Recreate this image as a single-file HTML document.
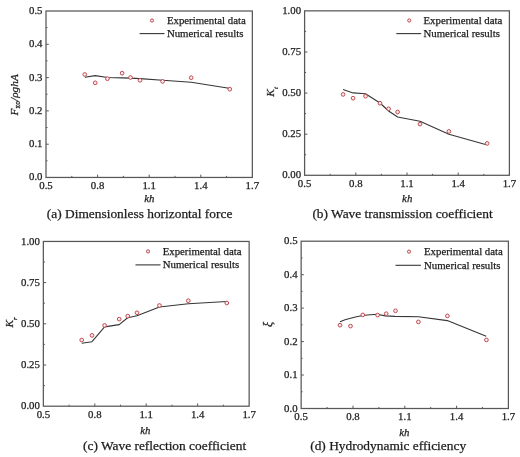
<!DOCTYPE html>
<html><head><meta charset="utf-8"><title>Figure</title>
<style>
html,body{margin:0;padding:0;background:#fff;}
body{width:520px;height:457px;overflow:hidden;}
svg{display:block;}
text{font-family:"Liberation Serif","Times New Roman",serif;fill:#1c1c1c;stroke:#1c1c1c;stroke-width:0.25px;font-variant-ligatures:none;}
.tk{font-size:10.8px;}
.yl{font-size:11.3px;}
.lg{font-size:10.8px;}
.cp{font-size:13.4px;}
.it{font-style:italic;}
</style></head><body>
<svg width="520" height="457" viewBox="0 0 520 457">
<rect width="520" height="457" fill="#fff"/>
<g id="plot-a">
<rect x="46.00" y="11.00" width="206.35" height="166.45" fill="none" stroke="#585858" stroke-width="1.25"/>
<text class="tk" x="46.0" y="189.2" text-anchor="middle">0.5</text>
<text class="tk" x="97.6" y="189.2" text-anchor="middle">0.8</text>
<text class="tk" x="149.2" y="189.2" text-anchor="middle">1.1</text>
<text class="tk" x="200.8" y="189.2" text-anchor="middle">1.4</text>
<text class="tk" x="252.3" y="189.2" text-anchor="middle">1.7</text>
<text class="tk" x="42.5" y="180.4" text-anchor="end">0.0</text>
<text class="tk" x="42.5" y="147.2" text-anchor="end">0.1</text>
<text class="tk" x="42.5" y="113.9" text-anchor="end">0.2</text>
<text class="tk" x="42.5" y="80.6" text-anchor="end">0.3</text>
<text class="tk" x="42.5" y="47.3" text-anchor="end">0.4</text>
<text class="tk" x="42.5" y="14.0" text-anchor="end">0.5</text>
<path d="M71.8,177.4 v-1.5 M97.6,177.4 v-2.8 M123.4,177.4 v-1.5 M149.2,177.4 v-2.8 M175.0,177.4 v-1.5 M200.8,177.4 v-2.8 M226.6,177.4 v-1.5 M46.0,160.8 h1.5 M46.0,144.2 h2.8 M46.0,127.5 h1.5 M46.0,110.9 h2.8 M46.0,94.2 h1.5 M46.0,77.6 h2.8 M46.0,60.9 h1.5 M46.0,44.3 h2.8 M46.0,27.6 h1.5" stroke="#585858" stroke-width="1" fill="none"/>
<text class="tk it" x="149.3" y="201.6" text-anchor="middle" style="font-size:10.8px">kh</text>
<text class="yl it" transform="translate(17.6,94.8) rotate(-90)" text-anchor="middle">F<tspan style="font-size:7.5px;font-style:normal" dy="2">xo</tspan><tspan dy="-2">/ρghA</tspan></text>
<polyline points="84.8,77.3 95.2,75.6 107.5,77.5 122.1,77.9 130.4,78.1 139.9,78.6 162.6,80.3 191.2,82.3 229.0,88.2" fill="none" stroke="#363636" stroke-width="1.1" stroke-linejoin="round"/>
<circle cx="84.8" cy="74.5" r="1.85" fill="#f8ecee" stroke="#c04a50" stroke-width="1"/>
<circle cx="95.2" cy="82.8" r="1.85" fill="#f8ecee" stroke="#c04a50" stroke-width="1"/>
<circle cx="107.4" cy="78.7" r="1.85" fill="#f8ecee" stroke="#c04a50" stroke-width="1"/>
<circle cx="122.1" cy="73.2" r="1.85" fill="#f8ecee" stroke="#c04a50" stroke-width="1"/>
<circle cx="130.5" cy="77.5" r="1.85" fill="#f8ecee" stroke="#c04a50" stroke-width="1"/>
<circle cx="140.1" cy="80.3" r="1.85" fill="#f8ecee" stroke="#c04a50" stroke-width="1"/>
<circle cx="162.6" cy="81.4" r="1.85" fill="#f8ecee" stroke="#c04a50" stroke-width="1"/>
<circle cx="191.2" cy="77.7" r="1.85" fill="#f8ecee" stroke="#c04a50" stroke-width="1"/>
<circle cx="229.8" cy="89.2" r="1.85" fill="#f8ecee" stroke="#c04a50" stroke-width="1"/>
<circle cx="152.0" cy="20.5" r="1.6" fill="#f8ecee" stroke="#c04a50" stroke-width="1"/>
<path d="M139.6,33.6 H164.5" stroke="#363636" stroke-width="1.1"/>
<text class="lg" x="166.9" y="23.8">Experimental data</text>
<text class="lg" x="166.9" y="37.1">Numerical results</text>
<text class="cp" x="46.8" y="217.6">(a) Dimensionless horizontal force</text>
</g>
<g id="plot-b">
<rect x="304.60" y="10.85" width="204.80" height="164.45" fill="none" stroke="#585858" stroke-width="1.25"/>
<text class="tk" x="304.6" y="186.6" text-anchor="middle">0.5</text>
<text class="tk" x="355.8" y="186.6" text-anchor="middle">0.8</text>
<text class="tk" x="407.0" y="186.6" text-anchor="middle">1.1</text>
<text class="tk" x="458.2" y="186.6" text-anchor="middle">1.4</text>
<text class="tk" x="509.4" y="186.6" text-anchor="middle">1.7</text>
<text class="tk" x="301.1" y="178.1" text-anchor="end">0.00</text>
<text class="tk" x="301.1" y="137.0" text-anchor="end">0.25</text>
<text class="tk" x="301.1" y="95.9" text-anchor="end">0.50</text>
<text class="tk" x="301.1" y="54.8" text-anchor="end">0.75</text>
<text class="tk" x="301.1" y="13.6" text-anchor="end">1.00</text>
<path d="M330.2,175.3 v-1.5 M355.8,175.3 v-2.8 M381.4,175.3 v-1.5 M407.0,175.3 v-2.8 M432.6,175.3 v-1.5 M458.2,175.3 v-2.8 M483.8,175.3 v-1.5 M304.6,154.7 h1.5 M304.6,134.2 h2.8 M304.6,113.6 h1.5 M304.6,93.1 h2.8 M304.6,72.5 h1.5 M304.6,52.0 h2.8 M304.6,31.4 h1.5" stroke="#585858" stroke-width="1" fill="none"/>
<text class="tk it" x="407.2" y="201.9" text-anchor="middle" style="font-size:10.8px">kh</text>
<text class="yl it" transform="translate(274.4,91.9) rotate(-90)" text-anchor="middle" style="font-size:11.3px">K<tspan style="font-size:7px" dy="3.2">t</tspan></text>
<polyline points="343.1,89.6 353.1,92.9 365.5,93.7 380.0,103.0 388.6,111.0 397.6,117.0 420.0,121.3 448.9,134.3 486.4,144.8" fill="none" stroke="#363636" stroke-width="1.1" stroke-linejoin="round"/>
<circle cx="343.1" cy="94.4" r="1.85" fill="#f8ecee" stroke="#c04a50" stroke-width="1"/>
<circle cx="353.1" cy="98.2" r="1.85" fill="#f8ecee" stroke="#c04a50" stroke-width="1"/>
<circle cx="365.5" cy="96.2" r="1.85" fill="#f8ecee" stroke="#c04a50" stroke-width="1"/>
<circle cx="380.0" cy="103.2" r="1.85" fill="#f8ecee" stroke="#c04a50" stroke-width="1"/>
<circle cx="388.6" cy="108.8" r="1.85" fill="#f8ecee" stroke="#c04a50" stroke-width="1"/>
<circle cx="397.6" cy="112.0" r="1.85" fill="#f8ecee" stroke="#c04a50" stroke-width="1"/>
<circle cx="420.0" cy="124.1" r="1.85" fill="#f8ecee" stroke="#c04a50" stroke-width="1"/>
<circle cx="448.9" cy="131.4" r="1.85" fill="#f8ecee" stroke="#c04a50" stroke-width="1"/>
<circle cx="487.1" cy="143.4" r="1.85" fill="#f8ecee" stroke="#c04a50" stroke-width="1"/>
<circle cx="409.2" cy="20.5" r="1.6" fill="#f8ecee" stroke="#c04a50" stroke-width="1"/>
<path d="M396.3,33.6 H421.2" stroke="#363636" stroke-width="1.1"/>
<text class="lg" x="423.5" y="23.8">Experimental data</text>
<text class="lg" x="423.5" y="37.1">Numerical results</text>
<text class="cp" x="312.4" y="217.7">(b) Wave transmission coefficient</text>
</g>
<g id="plot-c">
<rect x="43.35" y="241.45" width="205.80" height="164.75" fill="none" stroke="#585858" stroke-width="1.25"/>
<text class="tk" x="43.4" y="418.0" text-anchor="middle">0.5</text>
<text class="tk" x="94.8" y="418.0" text-anchor="middle">0.8</text>
<text class="tk" x="146.2" y="418.0" text-anchor="middle">1.1</text>
<text class="tk" x="197.7" y="418.0" text-anchor="middle">1.4</text>
<text class="tk" x="249.2" y="418.0" text-anchor="middle">1.7</text>
<text class="tk" x="39.9" y="409.4" text-anchor="end">0.00</text>
<text class="tk" x="39.9" y="368.2" text-anchor="end">0.25</text>
<text class="tk" x="39.9" y="327.0" text-anchor="end">0.50</text>
<text class="tk" x="39.9" y="285.8" text-anchor="end">0.75</text>
<text class="tk" x="39.9" y="244.6" text-anchor="end">1.00</text>
<path d="M69.1,406.2 v-1.5 M94.8,406.2 v-2.8 M120.5,406.2 v-1.5 M146.2,406.2 v-2.8 M172.0,406.2 v-1.5 M197.7,406.2 v-2.8 M223.4,406.2 v-1.5 M43.4,385.6 h1.5 M43.4,365.0 h2.8 M43.4,344.4 h1.5 M43.4,323.8 h2.8 M43.4,303.2 h1.5 M43.4,282.6 h2.8 M43.4,262.0 h1.5" stroke="#585858" stroke-width="1" fill="none"/>
<text class="tk it" x="145.4" y="434.0" text-anchor="middle" style="font-size:10.8px">kh</text>
<text class="yl it" transform="translate(13.4,322.3) rotate(-90)" text-anchor="middle" style="font-size:11.3px">K<tspan style="font-size:7px" dy="3.2">r</tspan></text>
<polyline points="81.7,343.2 92.0,341.7 104.6,326.9 119.2,324.6 127.7,317.7 137.0,315.7 159.4,307.0 188.3,303.7 226.8,301.5" fill="none" stroke="#363636" stroke-width="1.1" stroke-linejoin="round"/>
<circle cx="81.7" cy="340.0" r="1.85" fill="#f8ecee" stroke="#c04a50" stroke-width="1"/>
<circle cx="92.0" cy="335.4" r="1.85" fill="#f8ecee" stroke="#c04a50" stroke-width="1"/>
<circle cx="104.6" cy="325.4" r="1.85" fill="#f8ecee" stroke="#c04a50" stroke-width="1"/>
<circle cx="119.2" cy="319.1" r="1.85" fill="#f8ecee" stroke="#c04a50" stroke-width="1"/>
<circle cx="127.7" cy="316.1" r="1.85" fill="#f8ecee" stroke="#c04a50" stroke-width="1"/>
<circle cx="137.0" cy="312.8" r="1.85" fill="#f8ecee" stroke="#c04a50" stroke-width="1"/>
<circle cx="159.4" cy="305.5" r="1.85" fill="#f8ecee" stroke="#c04a50" stroke-width="1"/>
<circle cx="188.3" cy="300.7" r="1.85" fill="#f8ecee" stroke="#c04a50" stroke-width="1"/>
<circle cx="226.8" cy="303.0" r="1.85" fill="#f8ecee" stroke="#c04a50" stroke-width="1"/>
<circle cx="148.1" cy="251.4" r="1.6" fill="#f8ecee" stroke="#c04a50" stroke-width="1"/>
<path d="M135.5,264.9 H160.5" stroke="#363636" stroke-width="1.1"/>
<text class="lg" x="162.7" y="255.0">Experimental data</text>
<text class="lg" x="162.7" y="268.4">Numerical results</text>
<text class="cp" x="83.0" y="450.4">(c) Wave reflection coefficient</text>
</g>
<g id="plot-d">
<rect x="301.15" y="241.20" width="207.25" height="167.30" fill="none" stroke="#585858" stroke-width="1.25"/>
<text class="tk" x="301.1" y="420.3" text-anchor="middle">0.5</text>
<text class="tk" x="353.0" y="420.3" text-anchor="middle">0.8</text>
<text class="tk" x="404.8" y="420.3" text-anchor="middle">1.1</text>
<text class="tk" x="456.6" y="420.3" text-anchor="middle">1.4</text>
<text class="tk" x="508.4" y="420.3" text-anchor="middle">1.7</text>
<text class="tk" x="297.6" y="411.6" text-anchor="end">0.0</text>
<text class="tk" x="297.6" y="378.1" text-anchor="end">0.1</text>
<text class="tk" x="297.6" y="344.7" text-anchor="end">0.2</text>
<text class="tk" x="297.6" y="311.2" text-anchor="end">0.3</text>
<text class="tk" x="297.6" y="277.8" text-anchor="end">0.4</text>
<text class="tk" x="297.6" y="244.3" text-anchor="end">0.5</text>
<path d="M327.1,408.5 v-1.5 M353.0,408.5 v-2.8 M378.9,408.5 v-1.5 M404.8,408.5 v-2.8 M430.7,408.5 v-1.5 M456.6,408.5 v-2.8 M482.5,408.5 v-1.5 M301.1,391.8 h1.5 M301.1,375.0 h2.8 M301.1,358.3 h1.5 M301.1,341.6 h2.8 M301.1,324.8 h1.5 M301.1,308.1 h2.8 M301.1,291.4 h1.5 M301.1,274.7 h2.8 M301.1,257.9 h1.5" stroke="#585858" stroke-width="1" fill="none"/>
<text class="tk it" x="404.4" y="435.6" text-anchor="middle" style="font-size:10.8px">kh</text>
<text class="yl it" transform="translate(272.4,324.4) rotate(-90)" text-anchor="middle" style="font-size:12px">ξ</text>
<path d="M340.0,321.7 C345,319.7 352,317.4 362.8,315.5 C368,314.7 373,314.3 377.4,314.2 L385.2,315.9 L395,316.4 L418.4,316.8 L447.3,320.6 L486.2,336.2" fill="none" stroke="#363636" stroke-width="1.1" stroke-linejoin="round"/>
<circle cx="340.0" cy="325.2" r="1.85" fill="#f8ecee" stroke="#c04a50" stroke-width="1"/>
<circle cx="350.5" cy="326.1" r="1.85" fill="#f8ecee" stroke="#c04a50" stroke-width="1"/>
<circle cx="362.8" cy="314.9" r="1.85" fill="#f8ecee" stroke="#c04a50" stroke-width="1"/>
<circle cx="377.6" cy="315.1" r="1.85" fill="#f8ecee" stroke="#c04a50" stroke-width="1"/>
<circle cx="386.2" cy="313.7" r="1.85" fill="#f8ecee" stroke="#c04a50" stroke-width="1"/>
<circle cx="395.5" cy="310.8" r="1.85" fill="#f8ecee" stroke="#c04a50" stroke-width="1"/>
<circle cx="418.4" cy="321.9" r="1.85" fill="#f8ecee" stroke="#c04a50" stroke-width="1"/>
<circle cx="447.4" cy="315.9" r="1.85" fill="#f8ecee" stroke="#c04a50" stroke-width="1"/>
<circle cx="486.4" cy="339.9" r="1.85" fill="#f8ecee" stroke="#c04a50" stroke-width="1"/>
<circle cx="409.0" cy="251.6" r="1.6" fill="#f8ecee" stroke="#c04a50" stroke-width="1"/>
<path d="M395.5,265.3 H420.9" stroke="#363636" stroke-width="1.1"/>
<text class="lg" x="424.0" y="255.2">Experimental data</text>
<text class="lg" x="424.0" y="268.8">Numerical results</text>
<text class="cp" x="310.2" y="450.3">(d) Hydrodynamic efficiency</text>
</g>
</svg>
</body></html>
